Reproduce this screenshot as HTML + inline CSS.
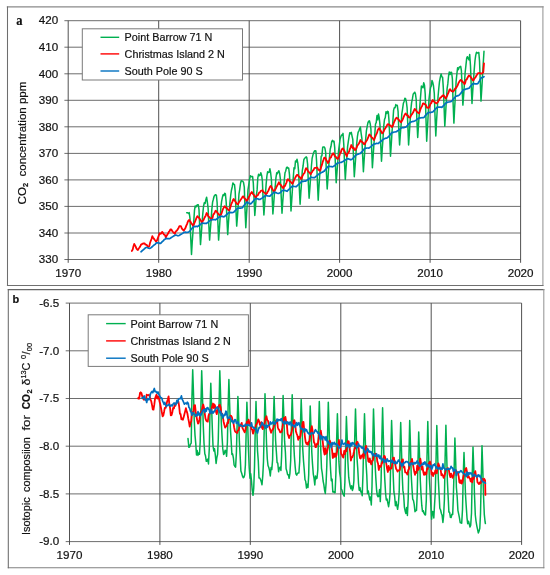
<!DOCTYPE html>
<html lang="en"><head><meta charset="utf-8"><title>CO2 concentration and isotopic composition</title>
<style>html,body{margin:0;padding:0;background:#fff}svg{display:block;font-size:11.5px}text{font-family:"Liberation Sans",sans-serif;fill:#111;stroke:#111;stroke-width:0.2px}</style></head><body>
<svg width="550" height="575" viewBox="0 0 550 575">
<rect x="0" y="0" width="550" height="575" fill="#fff"/>
<g fill="none" stroke-linecap="square">
<line x1="7.5" y1="6.9" x2="542.9" y2="6.9" stroke="#8a8a8a" stroke-width="1.40"/>
<line x1="542.9" y1="6.9" x2="542.9" y2="285.5" stroke="#9a9a9a" stroke-width="1.1"/>
<line x1="7.5" y1="285.5" x2="542.9" y2="285.5" stroke="#707070" stroke-width="1.1"/>
<line x1="7.5" y1="6.9" x2="7.5" y2="285.5" stroke="#6e6e6e" stroke-width="1.05"/>
</g>
<g fill="none" stroke-linecap="square">
<line x1="8.3" y1="289.6" x2="543.8" y2="289.6" stroke="#666666" stroke-width="1.10"/>
<line x1="543.8" y1="289.6" x2="543.8" y2="567.7" stroke="#9a9a9a" stroke-width="1.1"/>
<line x1="8.3" y1="567.7" x2="543.8" y2="567.7" stroke="#808080" stroke-width="1.1"/>
<line x1="8.3" y1="289.6" x2="8.3" y2="567.7" stroke="#6a6a6a" stroke-width="1.05"/>
</g>
<g stroke="#5c5c5c" stroke-width="0.9" fill="none"><line x1="64.4" y1="259.5" x2="520.6" y2="259.5"/><line x1="64.4" y1="233.0" x2="520.6" y2="233.0"/><line x1="64.4" y1="206.4" x2="520.6" y2="206.4"/><line x1="64.4" y1="179.9" x2="520.6" y2="179.9"/><line x1="64.4" y1="153.4" x2="520.6" y2="153.4"/><line x1="64.4" y1="126.8" x2="520.6" y2="126.8"/><line x1="64.4" y1="100.3" x2="520.6" y2="100.3"/><line x1="64.4" y1="73.8" x2="520.6" y2="73.8"/><line x1="64.4" y1="47.2" x2="520.6" y2="47.2"/><line x1="64.4" y1="20.7" x2="520.6" y2="20.7"/></g>
<g stroke="#484848" stroke-width="0.95" fill="none"><line x1="68.2" y1="20.7" x2="68.2" y2="262.8"/><line x1="158.7" y1="20.7" x2="158.7" y2="262.8"/><line x1="249.2" y1="20.7" x2="249.2" y2="262.8"/><line x1="339.6" y1="20.7" x2="339.6" y2="262.8"/><line x1="430.1" y1="20.7" x2="430.1" y2="262.8"/><line x1="520.6" y1="20.7" x2="520.6" y2="262.8"/></g>
<text transform="translate(58.2,263.2) scale(1.000,1)" text-anchor="end" style="font-size:11.6px">330</text><text transform="translate(58.2,236.7) scale(1.000,1)" text-anchor="end" style="font-size:11.6px">340</text><text transform="translate(58.2,210.1) scale(1.000,1)" text-anchor="end" style="font-size:11.6px">350</text><text transform="translate(58.2,183.6) scale(1.000,1)" text-anchor="end" style="font-size:11.6px">360</text><text transform="translate(58.2,157.1) scale(1.000,1)" text-anchor="end" style="font-size:11.6px">370</text><text transform="translate(58.2,130.5) scale(1.000,1)" text-anchor="end" style="font-size:11.6px">380</text><text transform="translate(58.2,104.0) scale(1.000,1)" text-anchor="end" style="font-size:11.6px">390</text><text transform="translate(58.2,77.5) scale(1.000,1)" text-anchor="end" style="font-size:11.6px">400</text><text transform="translate(58.2,50.9) scale(1.000,1)" text-anchor="end" style="font-size:11.6px">410</text><text transform="translate(58.2,24.4) scale(1.000,1)" text-anchor="end" style="font-size:11.6px">420</text><text transform="translate(68.2,276.7) scale(1.000,1)" text-anchor="middle" style="font-size:11.6px">1970</text><text transform="translate(158.7,276.7) scale(1.000,1)" text-anchor="middle" style="font-size:11.6px">1980</text><text transform="translate(249.2,276.7) scale(1.000,1)" text-anchor="middle" style="font-size:11.6px">1990</text><text transform="translate(339.6,276.7) scale(1.000,1)" text-anchor="middle" style="font-size:11.6px">2000</text><text transform="translate(430.1,276.7) scale(1.000,1)" text-anchor="middle" style="font-size:11.6px">2010</text><text transform="translate(520.6,276.7) scale(1.000,1)" text-anchor="middle" style="font-size:11.6px">2020</text>
<g fill="none" stroke-linejoin="round" stroke-linecap="round">
<polyline stroke="#00b050" stroke-width="1.5" points="186.7,212.8 187.7,212.7 188.5,213.5 189.2,212.6 190.0,218.5 190.7,237.5 191.5,254.5 192.2,242.7 193.0,231.5 193.7,222.4 194.5,210.1 195.2,206.0 196.0,207.0 196.8,205.4 197.5,204.8 198.3,204.8 199.0,209.6 199.8,229.1 200.5,244.6 201.3,234.1 202.0,223.9 202.8,213.6 203.5,206.5 204.3,202.7 205.1,203.5 205.8,200.0 206.6,197.2 207.3,201.6 208.1,208.1 208.8,224.5 209.6,240.1 210.3,230.0 211.1,220.1 211.8,209.9 212.6,202.1 213.3,199.5 214.1,196.2 214.9,195.2 215.6,194.7 216.4,195.3 217.1,202.4 217.9,223.0 218.6,240.1 219.4,228.9 220.1,218.2 220.9,207.4 221.6,201.3 222.4,197.3 223.1,194.7 223.9,195.4 224.7,193.2 225.4,193.9 226.2,202.2 226.9,218.5 227.7,234.6 228.4,223.4 229.2,212.7 229.9,203.1 230.7,195.3 231.4,190.5 232.2,187.0 232.9,182.9 233.7,184.2 234.5,184.7 235.2,191.4 236.0,210.7 236.7,226.1 237.5,215.9 238.2,205.9 239.0,193.8 239.7,189.6 240.5,183.5 241.2,180.8 242.0,181.1 242.8,181.3 243.5,182.4 244.3,187.1 245.0,208.9 245.8,227.7 246.5,214.9 247.3,202.9 248.0,189.6 248.8,184.6 249.5,179.7 250.3,175.8 251.0,176.8 251.8,176.4 252.6,176.6 253.3,182.9 254.1,200.5 254.8,215.5 255.6,205.5 256.3,195.9 257.1,189.9 257.8,177.9 258.6,174.2 259.3,175.7 260.1,175.3 260.8,172.8 261.6,175.2 262.4,181.0 263.1,198.9 263.9,214.9 264.6,204.7 265.4,194.9 266.1,184.6 266.9,176.0 267.6,171.8 268.4,172.6 269.1,172.4 269.9,168.8 270.6,172.5 271.4,179.5 272.2,197.9 272.9,214.0 273.7,203.7 274.4,193.8 275.2,186.7 275.9,178.1 276.7,172.8 277.4,173.7 278.2,171.8 278.9,170.8 279.7,173.6 280.5,180.2 281.2,196.6 282.0,213.3 282.7,202.4 283.5,191.9 284.2,181.0 285.0,172.7 285.7,171.2 286.5,167.6 287.2,167.1 288.0,168.3 288.7,168.0 289.5,174.8 290.3,193.5 291.0,210.9 291.8,199.3 292.5,188.1 293.3,177.1 294.0,167.8 294.8,168.6 295.5,160.9 296.3,161.9 297.0,159.2 297.8,163.1 298.5,170.4 299.3,187.6 300.1,204.3 300.8,192.9 301.6,181.9 302.3,170.7 303.1,166.0 303.8,159.9 304.6,158.2 305.3,157.8 306.1,156.9 306.8,157.6 307.6,164.1 308.3,181.7 309.1,198.2 309.9,187.6 310.6,177.4 311.4,166.3 312.1,158.5 312.9,155.1 313.6,152.8 314.4,151.2 315.1,150.7 315.9,151.0 316.6,161.7 317.4,181.5 318.2,200.3 318.9,187.5 319.7,175.4 320.4,168.5 321.2,156.1 321.9,155.9 322.7,147.3 323.4,147.0 324.2,147.0 324.9,148.2 325.7,152.7 326.4,172.9 327.2,188.9 328.0,177.8 328.7,167.2 329.5,156.7 330.2,149.3 331.0,146.3 331.7,141.7 332.5,140.4 333.2,141.7 334.0,141.2 334.7,147.4 335.5,166.7 336.2,182.8 337.0,172.0 337.8,161.5 338.5,151.3 339.3,145.1 340.0,139.6 340.8,136.7 341.5,135.1 342.3,135.2 343.0,133.4 343.8,144.8 344.5,162.6 345.3,179.4 346.0,168.4 346.8,158.0 347.6,146.6 348.3,141.7 349.1,136.5 349.8,132.7 350.6,133.7 351.3,132.3 352.1,136.3 352.8,139.4 353.6,160.0 354.3,176.7 355.1,165.6 355.9,154.8 356.6,144.8 357.4,136.7 358.1,132.4 358.9,130.8 359.6,128.9 360.4,127.0 361.1,133.1 361.9,138.7 362.6,155.0 363.4,171.8 364.1,160.4 364.9,149.4 365.7,138.9 366.4,130.9 367.2,126.3 367.9,122.8 368.7,121.2 369.4,120.8 370.2,123.7 370.9,128.8 371.7,149.8 372.4,167.7 373.2,155.7 373.9,144.2 374.7,135.8 375.5,124.0 376.2,122.7 377.0,115.5 377.7,119.8 378.5,114.1 379.2,117.5 380.0,125.1 380.7,144.1 381.5,161.2 382.2,149.7 383.0,138.6 383.7,126.4 384.5,119.6 385.3,117.5 386.0,111.7 386.8,113.5 387.5,111.2 388.3,111.9 389.0,120.4 389.8,138.7 390.5,156.3 391.3,144.0 392.0,132.3 392.8,122.1 393.6,110.1 394.3,107.8 395.1,107.7 395.8,104.6 396.6,105.6 397.3,105.3 398.1,111.7 398.8,129.5 399.6,144.9 400.3,134.7 401.1,124.7 401.8,113.9 402.6,108.8 403.4,103.2 404.1,101.4 404.9,98.3 405.6,98.6 406.4,102.2 407.1,107.8 407.9,127.1 408.6,144.9 409.4,132.9 410.1,121.3 410.9,109.1 411.6,102.6 412.4,98.9 413.2,94.0 413.9,93.4 414.7,92.2 415.4,93.5 416.2,99.5 416.9,120.0 417.7,137.4 418.4,126.1 419.2,114.9 419.9,105.1 420.7,95.0 421.4,86.1 422.2,86.7 423.0,87.8 423.7,82.8 424.5,85.3 425.2,93.8 426.0,119.6 426.7,141.2 427.5,127.2 428.2,114.1 429.0,99.2 429.7,93.2 430.5,87.8 431.3,86.0 432.0,80.4 432.8,82.6 433.5,86.0 434.3,93.4 435.0,115.6 435.8,135.9 436.5,122.0 437.3,108.8 438.0,97.2 438.8,88.3 439.5,81.7 440.3,77.3 441.1,73.9 441.8,76.8 442.6,77.2 443.3,87.6 444.1,107.4 444.8,126.3 445.6,113.6 446.3,101.3 447.1,88.6 447.8,83.9 448.6,75.7 449.3,71.9 450.1,74.6 450.9,72.2 451.6,72.5 452.4,79.0 453.1,102.9 453.9,123.1 454.6,108.8 455.4,95.5 456.1,81.6 456.9,73.7 457.6,67.8 458.4,69.6 459.1,67.4 459.9,66.7 460.7,66.3 461.4,70.7 462.2,89.8 462.9,105.1 463.7,94.4 464.4,84.0 465.2,71.8 465.9,65.7 466.7,58.1 467.4,56.7 468.2,58.5 469.0,60.0 469.7,54.5 470.5,66.0 471.2,85.3 472.0,103.5 472.7,91.6 473.5,80.1 474.2,70.1 475.0,60.5 475.7,55.4 476.5,52.3 477.2,52.9 478.0,53.0 478.8,52.5 479.5,60.6 480.3,82.1 481.0,101.1 481.8,88.4 482.5,76.3 483.3,62.6 484.0,51.2"/>
<polyline stroke="#ff0000" stroke-width="1.8" points="131.8,251.0 132.7,249.6 133.4,246.4 134.2,243.9 134.9,245.1 135.7,246.6 136.4,248.4 137.2,249.6 137.9,250.1 138.7,248.5 139.5,247.5 140.2,246.5 141.0,244.7 141.7,244.4 142.5,243.7 143.2,243.5 144.0,243.4 144.7,243.5 145.5,244.7 146.2,244.6 147.0,245.2 147.7,246.8 148.5,246.9 149.3,246.1 150.0,243.0 150.8,240.8 151.5,239.0 152.3,236.2 153.0,237.5 153.8,238.6 154.5,239.6 155.3,240.5 156.0,241.6 156.8,240.9 157.5,239.2 158.3,236.7 159.1,234.6 159.8,233.2 160.6,233.8 161.3,233.4 162.1,231.9 162.8,232.7 163.6,234.2 164.3,234.6 165.1,235.2 165.8,237.6 166.6,235.6 167.4,234.6 168.1,233.6 168.9,231.7 169.6,231.2 170.4,229.3 171.1,229.3 171.9,230.4 172.6,231.5 173.4,232.5 174.1,233.0 174.9,233.9 175.6,231.5 176.4,231.0 177.2,230.2 177.9,229.0 178.7,227.7 179.4,226.2 180.2,226.1 180.9,226.1 181.7,228.2 182.4,229.3 183.2,230.0 183.9,230.7 184.7,229.2 185.4,228.1 186.2,225.9 187.0,224.1 187.7,222.1 188.5,220.4 189.2,219.9 190.0,221.3 190.7,222.0 191.5,223.9 192.2,224.1 193.0,225.9 193.7,224.9 194.5,222.8 195.2,221.1 196.0,219.2 196.8,217.0 197.5,216.2 198.3,217.3 199.0,217.7 199.8,219.1 200.5,220.2 201.3,221.3 202.0,222.8 202.8,221.1 203.5,220.1 204.3,218.1 205.1,216.8 205.8,215.3 206.6,213.0 207.3,213.9 208.1,216.0 208.8,216.8 209.6,217.4 210.3,218.3 211.1,220.1 211.8,218.7 212.6,217.6 213.3,214.5 214.1,213.8 214.9,212.1 215.6,210.7 216.4,211.3 217.1,212.3 217.9,213.6 218.6,214.1 219.4,215.2 220.1,215.6 220.9,214.9 221.6,213.1 222.4,210.8 223.1,208.7 223.9,207.4 224.7,206.3 225.4,207.0 226.2,208.0 226.9,208.0 227.7,209.3 228.4,210.0 229.2,210.5 229.9,208.8 230.7,206.1 231.4,203.8 232.2,202.1 232.9,200.3 233.7,199.0 234.5,200.5 235.2,201.1 236.0,202.6 236.7,203.7 237.5,204.1 238.2,204.0 239.0,202.0 239.7,201.4 240.5,199.9 241.2,199.0 242.0,197.8 242.8,196.4 243.5,196.4 244.3,198.2 245.0,198.5 245.8,199.5 246.5,201.3 247.3,200.0 248.0,199.0 248.8,197.1 249.5,196.1 250.3,194.0 251.0,193.2 251.8,192.0 252.6,193.5 253.3,194.4 254.1,195.2 254.8,196.4 255.6,197.6 256.3,196.5 257.1,195.5 257.8,195.4 258.6,193.6 259.3,192.6 260.1,192.2 260.8,190.8 261.6,190.6 262.4,190.2 263.1,191.7 263.9,192.4 264.6,192.6 265.4,193.9 266.1,194.0 266.9,193.3 267.6,191.8 268.4,190.7 269.1,188.9 269.9,187.0 270.6,186.0 271.4,186.8 272.2,188.8 272.9,190.0 273.7,191.1 274.4,191.2 275.2,189.7 275.9,188.3 276.7,186.5 277.4,185.3 278.2,183.7 278.9,182.3 279.7,184.1 280.5,184.8 281.2,185.3 282.0,186.9 282.7,187.7 283.5,188.3 284.2,185.8 285.0,186.0 285.7,184.1 286.5,182.6 287.2,180.1 288.0,179.1 288.7,179.9 289.5,181.1 290.3,181.3 291.0,182.2 291.8,183.3 292.5,183.8 293.3,182.2 294.0,180.1 294.8,178.6 295.5,177.2 296.3,175.8 297.0,174.9 297.8,174.9 298.5,176.2 299.3,176.8 300.1,177.5 300.8,178.9 301.6,178.7 302.3,176.2 303.1,174.8 303.8,173.6 304.6,172.9 305.3,170.1 306.1,168.1 306.8,168.7 307.6,170.4 308.3,171.4 309.1,172.4 309.9,172.9 310.6,174.4 311.4,172.8 312.1,172.0 312.9,170.4 313.6,170.0 314.4,168.1 315.1,167.9 315.9,167.8 316.6,167.5 317.4,167.7 318.2,169.8 318.9,169.6 319.7,170.8 320.4,170.2 321.2,166.9 321.9,164.9 322.7,161.9 323.4,160.1 324.2,157.7 324.9,157.7 325.7,158.5 326.4,160.4 327.2,161.5 328.0,163.0 328.7,161.8 329.5,159.8 330.2,157.6 331.0,157.4 331.7,155.3 332.5,154.4 333.2,153.3 334.0,154.1 334.7,156.0 335.5,156.7 336.2,157.1 337.0,158.7 337.8,158.9 338.5,157.4 339.3,156.0 340.0,153.4 340.8,152.4 341.5,150.1 342.3,148.6 343.0,148.5 343.8,150.1 344.5,151.2 345.3,153.1 346.0,154.7 346.8,156.3 347.6,153.6 348.3,152.7 349.1,151.6 349.8,149.3 350.6,147.3 351.3,145.0 352.1,146.7 352.8,148.0 353.6,147.6 354.3,149.3 355.1,150.2 355.9,149.1 356.6,147.8 357.4,145.4 358.1,144.8 358.9,143.5 359.6,142.2 360.4,140.0 361.1,141.4 361.9,141.6 362.6,142.5 363.4,143.2 364.1,144.4 364.9,143.9 365.7,141.9 366.4,141.0 367.2,139.7 367.9,138.2 368.7,136.0 369.4,134.5 370.2,135.2 370.9,136.1 371.7,137.7 372.4,137.7 373.2,138.9 373.9,140.0 374.7,138.3 375.5,136.1 376.2,134.5 377.0,132.9 377.7,130.2 378.5,128.9 379.2,128.1 380.0,129.8 380.7,130.5 381.5,132.3 382.2,133.4 383.0,132.6 383.7,131.4 384.5,129.5 385.3,128.3 386.0,127.1 386.8,125.7 387.5,124.3 388.3,124.1 389.0,124.8 389.8,125.5 390.5,125.5 391.3,126.3 392.0,127.0 392.8,125.9 393.6,123.4 394.3,121.7 395.1,120.0 395.8,118.5 396.6,117.6 397.3,118.2 398.1,118.9 398.8,119.9 399.6,120.8 400.3,121.8 401.1,122.4 401.8,121.0 402.6,119.8 403.4,117.6 404.1,116.0 404.9,114.4 405.6,113.5 406.4,114.3 407.1,115.4 407.9,115.4 408.6,117.3 409.4,117.4 410.1,117.6 410.9,115.7 411.6,114.6 412.4,113.6 413.2,112.3 413.9,110.6 414.7,108.9 415.4,109.6 416.2,110.6 416.9,111.8 417.7,112.5 418.4,113.0 419.2,113.3 419.9,111.0 420.7,108.5 421.4,107.1 422.2,105.7 423.0,103.4 423.7,103.4 424.5,104.1 425.2,104.4 426.0,105.2 426.7,107.5 427.5,107.5 428.2,107.9 429.0,107.7 429.7,105.8 430.5,103.8 431.3,103.1 432.0,101.2 432.8,99.9 433.5,101.4 434.3,101.4 435.0,102.6 435.8,103.1 436.5,103.3 437.3,102.7 438.0,101.9 438.8,100.3 439.5,99.2 440.3,97.7 441.1,97.4 441.8,96.1 442.6,96.2 443.3,95.1 444.1,95.9 444.8,97.3 445.6,98.6 446.3,97.3 447.1,95.8 447.8,94.0 448.6,92.4 449.3,90.1 450.1,89.1 450.9,90.5 451.6,91.2 452.4,91.4 453.1,91.7 453.9,90.7 454.6,89.5 455.4,88.2 456.1,88.1 456.9,86.5 457.6,85.5 458.4,83.2 459.1,82.1 459.9,80.7 460.7,80.0 461.4,80.3 462.2,81.4 462.9,82.4 463.7,82.5 464.4,84.2 465.2,83.0 465.9,79.9 466.7,79.5 467.4,78.0 468.2,76.5 469.0,75.4 469.7,75.9 470.5,76.8 471.2,77.7 472.0,78.9 472.7,80.3 473.5,80.5 474.2,78.9 475.0,77.8 475.7,77.0 476.5,75.3 477.2,74.5 478.0,73.1 478.8,73.1 479.5,73.1 480.3,73.2 481.0,73.6 481.8,73.6 482.5,72.9 483.3,72.2 484.0,63.4"/>
<polyline stroke="#0070c0" stroke-width="1.7" points="141.0,251.8 141.7,251.2 142.5,250.5 143.2,249.8 144.0,249.2 144.7,248.5 145.5,247.8 146.2,247.5 147.0,247.5 147.7,247.8 148.5,248.1 149.3,248.3 150.0,248.4 150.8,247.9 151.5,247.3 152.3,246.8 153.0,245.9 153.8,245.3 154.5,244.7 155.3,244.3 156.0,243.3 156.8,242.8 157.5,242.9 158.3,242.8 159.1,243.1 159.8,243.4 160.6,243.3 161.3,242.8 162.1,241.7 162.8,241.2 163.6,240.5 164.3,239.6 165.1,239.2 165.8,238.3 166.6,238.6 167.4,238.6 168.1,238.7 168.9,238.5 169.6,238.6 170.4,238.3 171.1,237.6 171.9,237.2 172.6,236.6 173.4,236.3 174.1,235.8 174.9,235.3 175.6,235.2 176.4,235.2 177.2,235.5 177.9,235.8 178.7,235.6 179.4,235.3 180.2,234.8 180.9,234.3 181.7,233.9 182.4,233.4 183.2,233.0 183.9,232.3 184.7,232.3 185.4,232.2 186.2,232.3 187.0,232.5 187.7,232.3 188.5,232.1 189.2,231.6 190.0,230.8 190.7,229.9 191.5,229.0 192.2,228.1 193.0,227.3 193.7,226.4 194.5,226.6 195.2,226.6 196.0,226.4 196.8,226.4 197.5,226.6 198.3,226.0 199.0,225.4 199.8,225.0 200.5,224.5 201.3,223.7 202.0,223.1 202.8,223.1 203.5,223.3 204.3,223.3 205.1,223.4 205.8,223.4 206.6,223.3 207.3,222.7 208.1,222.2 208.8,221.6 209.6,220.9 210.3,220.4 211.1,219.8 211.8,219.8 212.6,219.7 213.3,219.5 214.1,219.6 214.9,219.7 215.6,219.8 216.4,219.3 217.1,218.6 217.9,218.0 218.6,217.6 219.4,216.8 220.1,216.4 220.9,216.2 221.6,216.4 222.4,216.4 223.1,216.7 223.9,216.8 224.7,216.4 225.4,215.6 226.2,215.0 226.9,214.4 227.7,213.6 228.4,212.9 229.2,212.6 229.9,212.6 230.7,212.4 231.4,212.6 232.2,212.6 232.9,212.5 233.7,212.2 234.5,211.5 235.2,210.6 236.0,209.9 236.7,209.1 237.5,208.3 238.2,208.0 239.0,208.1 239.7,208.1 240.5,208.1 241.2,208.0 242.0,208.0 242.8,207.2 243.5,206.0 244.3,205.2 245.0,204.4 245.8,203.2 246.5,202.4 247.3,202.1 248.0,202.7 248.8,203.1 249.5,203.6 250.3,203.9 251.0,203.6 251.8,202.8 252.6,201.9 253.3,201.1 254.1,200.1 254.8,199.4 255.6,198.5 256.3,198.6 257.1,198.7 257.8,198.8 258.6,199.4 259.3,199.3 260.1,199.4 260.8,198.8 261.6,198.5 262.4,197.8 263.1,197.1 263.9,196.9 264.6,196.1 265.4,195.5 266.1,195.7 266.9,195.7 267.6,195.9 268.4,196.0 269.1,196.1 269.9,196.1 270.6,195.5 271.4,194.6 272.2,194.1 272.9,193.3 273.7,192.5 274.4,192.1 275.2,192.6 275.9,192.6 276.7,193.0 277.4,193.2 278.2,193.5 278.9,193.4 279.7,192.9 280.5,192.5 281.2,191.8 282.0,190.9 282.7,190.4 283.5,189.9 284.2,190.3 285.0,190.6 285.7,190.6 286.5,191.1 287.2,191.3 288.0,190.1 288.7,189.8 289.5,188.8 290.3,188.0 291.0,187.3 291.8,186.7 292.5,185.9 293.3,186.4 294.0,186.5 294.8,186.5 295.5,186.6 296.3,186.7 297.0,185.9 297.8,185.3 298.5,184.5 299.3,183.9 300.1,183.1 300.8,182.2 301.6,181.6 302.3,181.4 303.1,181.4 303.8,181.3 304.6,181.1 305.3,181.1 306.1,180.9 306.8,180.4 307.6,179.7 308.3,179.3 309.1,178.7 309.9,178.2 310.6,177.5 311.4,177.2 312.1,177.5 312.9,177.6 313.6,177.6 314.4,177.7 315.1,177.2 315.9,176.4 316.6,175.9 317.4,175.3 318.2,174.6 318.9,174.0 319.7,173.6 320.4,173.1 321.2,172.7 321.9,172.3 322.7,172.1 323.4,171.4 324.2,171.2 324.9,170.2 325.7,169.5 326.4,168.3 327.2,167.6 328.0,166.6 328.7,166.3 329.5,166.3 330.2,166.5 331.0,166.6 331.7,166.7 332.5,166.8 333.2,166.5 334.0,166.0 334.7,165.5 335.5,164.8 336.2,164.1 337.0,163.4 337.8,162.9 338.5,163.0 339.3,162.7 340.0,162.4 340.8,162.5 341.5,162.4 342.3,161.8 343.0,161.5 343.8,160.9 344.5,160.5 345.3,159.9 346.0,159.5 346.8,159.2 347.6,158.6 348.3,158.8 349.1,159.2 349.8,159.3 350.6,159.8 351.3,159.6 352.1,159.1 352.8,158.5 353.6,157.7 354.3,156.8 355.1,155.9 355.9,155.2 356.6,154.6 357.4,154.5 358.1,154.3 358.9,153.8 359.6,153.6 360.4,153.4 361.1,152.5 361.9,151.9 362.6,151.0 363.4,150.0 364.1,149.1 364.9,148.4 365.7,148.1 366.4,148.2 367.2,148.0 367.9,148.0 368.7,148.1 369.4,147.8 370.2,147.1 370.9,146.6 371.7,145.9 372.4,145.1 373.2,144.7 373.9,144.0 374.7,143.8 375.5,143.8 376.2,143.4 377.0,143.4 377.7,143.5 378.5,143.4 379.2,142.4 380.0,142.2 380.7,141.5 381.5,140.8 382.2,140.1 383.0,139.6 383.7,139.1 384.5,138.7 385.3,138.3 386.0,138.2 386.8,138.1 387.5,137.6 388.3,136.8 389.0,136.1 389.8,135.2 390.5,134.2 391.3,133.5 392.0,132.6 392.8,132.3 393.6,132.3 394.3,132.0 395.1,132.0 395.8,131.8 396.6,131.6 397.3,130.9 398.1,130.5 398.8,130.0 399.6,129.3 400.3,128.7 401.1,128.0 401.8,127.8 402.6,127.6 403.4,127.5 404.1,127.6 404.9,127.2 405.6,127.2 406.4,126.6 407.1,126.0 407.9,124.9 408.6,124.0 409.4,123.4 410.1,122.3 410.9,122.0 411.6,121.9 412.4,121.5 413.2,121.3 413.9,121.3 414.7,121.0 415.4,120.6 416.2,120.1 416.9,119.4 417.7,118.9 418.4,118.5 419.2,118.1 419.9,117.7 420.7,118.0 421.4,117.8 422.2,117.6 423.0,117.8 423.7,117.5 424.5,116.8 425.2,115.7 426.0,115.0 426.7,114.1 427.5,113.3 428.2,112.6 429.0,112.5 429.7,112.4 430.5,112.6 431.3,112.3 432.0,112.1 432.8,112.0 433.5,111.2 434.3,110.4 435.0,109.5 435.8,108.6 436.5,108.0 437.3,107.0 438.0,107.2 438.8,107.0 439.5,107.2 440.3,107.2 441.1,107.2 441.8,107.3 442.6,106.7 443.3,105.8 444.1,105.2 444.8,104.1 445.6,103.3 446.3,102.7 447.1,102.2 447.8,102.3 448.6,102.0 449.3,102.0 450.1,101.8 450.9,101.6 451.6,101.1 452.4,100.3 453.1,99.3 453.9,98.4 454.6,97.6 455.4,96.8 456.1,96.0 456.9,96.1 457.6,95.7 458.4,95.6 459.1,95.1 459.9,94.3 460.7,93.4 461.4,92.4 462.2,91.6 462.9,90.5 463.7,89.7 464.4,89.5 465.2,89.4 465.9,89.0 466.7,88.9 467.4,88.6 468.2,88.5 469.0,88.2 469.7,87.2 470.5,86.3 471.2,85.5 472.0,84.7 472.7,83.9 473.5,83.8 474.2,83.6 475.0,83.9 475.7,83.8 476.5,83.9 477.2,83.8 478.0,83.4 478.8,81.9 479.5,80.9 480.3,79.2 481.0,78.1 481.8,77.7 482.5,77.4 483.3,77.1 484.0,76.7"/>
</g>
<g stroke="#5c5c5c" stroke-width="0.9" fill="none"><line x1="65.7" y1="541.6" x2="521.6" y2="541.6"/><line x1="65.7" y1="493.9" x2="521.6" y2="493.9"/><line x1="65.7" y1="446.2" x2="521.6" y2="446.2"/><line x1="65.7" y1="398.5" x2="521.6" y2="398.5"/><line x1="65.7" y1="350.8" x2="521.6" y2="350.8"/><line x1="65.7" y1="303.1" x2="521.6" y2="303.1"/></g>
<g stroke="#484848" stroke-width="0.95" fill="none"><line x1="69.5" y1="303.1" x2="69.5" y2="544.9"/><line x1="159.9" y1="303.1" x2="159.9" y2="544.9"/><line x1="250.3" y1="303.1" x2="250.3" y2="544.9"/><line x1="340.8" y1="303.1" x2="340.8" y2="544.9"/><line x1="431.2" y1="303.1" x2="431.2" y2="544.9"/><line x1="521.6" y1="303.1" x2="521.6" y2="544.9"/></g>
<text transform="translate(59.2,545.3) scale(1.000,1)" text-anchor="end" style="font-size:11.6px">-9.0</text><text transform="translate(59.2,497.6) scale(1.000,1)" text-anchor="end" style="font-size:11.6px">-8.5</text><text transform="translate(59.2,449.9) scale(1.000,1)" text-anchor="end" style="font-size:11.6px">-8.0</text><text transform="translate(59.2,402.2) scale(1.000,1)" text-anchor="end" style="font-size:11.6px">-7.5</text><text transform="translate(59.2,354.5) scale(1.000,1)" text-anchor="end" style="font-size:11.6px">-7.0</text><text transform="translate(59.2,306.8) scale(1.000,1)" text-anchor="end" style="font-size:11.6px">-6.5</text><text transform="translate(69.5,559.2) scale(1.000,1)" text-anchor="middle" style="font-size:11.6px">1970</text><text transform="translate(159.9,559.2) scale(1.000,1)" text-anchor="middle" style="font-size:11.6px">1980</text><text transform="translate(250.3,559.2) scale(1.000,1)" text-anchor="middle" style="font-size:11.6px">1990</text><text transform="translate(340.8,559.2) scale(1.000,1)" text-anchor="middle" style="font-size:11.6px">2000</text><text transform="translate(431.2,559.2) scale(1.000,1)" text-anchor="middle" style="font-size:11.6px">2010</text><text transform="translate(521.6,559.2) scale(1.000,1)" text-anchor="middle" style="font-size:11.6px">2020</text>
<g fill="none" stroke-linejoin="round" stroke-linecap="round">
<polyline stroke="#00b050" stroke-width="1.5" points="188.0,438.6 188.9,447.3 189.7,446.8 190.4,444.4 191.2,443.2 191.9,399.3 192.7,369.7 193.5,393.2 194.2,419.5 195.0,435.1 195.7,442.9 196.5,455.0 197.2,450.6 198.0,455.4 198.7,452.9 199.5,454.3 200.2,441.6 201.0,402.5 201.7,370.8 202.5,396.4 203.2,424.0 204.0,443.0 204.8,453.7 205.5,455.8 206.3,461.3 207.0,461.0 207.8,459.1 208.5,463.9 209.3,448.3 210.0,410.3 210.8,383.2 211.5,404.0 212.3,427.7 213.0,445.6 213.8,451.0 214.5,448.6 215.3,454.8 216.1,463.4 216.8,457.9 217.6,454.3 218.3,439.1 219.1,403.1 219.8,370.8 220.6,395.7 221.3,422.5 222.1,437.2 222.8,448.9 223.6,454.4 224.3,453.7 225.1,450.3 225.9,451.1 226.6,456.3 227.4,442.0 228.1,407.0 228.9,379.4 229.6,402.9 230.4,428.4 231.1,439.6 231.9,454.5 232.6,453.9 233.4,458.0 234.1,465.0 234.9,466.5 235.6,467.1 236.4,452.8 237.2,422.0 237.9,396.6 238.7,418.0 239.4,441.9 240.2,456.7 240.9,471.1 241.7,473.2 242.4,475.9 243.2,477.8 243.9,477.4 244.7,474.7 245.4,465.0 246.2,430.5 246.9,402.3 247.7,424.9 248.5,450.5 249.2,467.5 250.0,478.2 250.7,473.7 251.5,480.9 252.2,489.8 253.0,495.3 253.7,488.7 254.5,466.9 255.2,432.6 256.0,401.4 256.7,424.7 257.5,450.6 258.3,461.0 259.0,477.9 259.8,478.0 260.5,479.5 261.3,481.8 262.0,484.7 262.8,475.4 263.5,461.7 264.3,424.7 265.0,393.7 265.8,417.3 266.5,442.8 267.3,459.0 268.0,465.5 268.8,467.5 269.6,470.8 270.3,475.9 271.1,467.4 271.8,469.6 272.6,459.8 273.3,423.4 274.1,396.6 274.8,417.4 275.6,440.5 276.3,450.9 277.1,462.7 277.8,463.2 278.6,471.8 279.3,468.1 280.1,467.1 280.9,470.4 281.6,456.2 282.4,423.0 283.1,395.6 283.9,417.2 284.6,441.4 285.4,452.2 286.1,468.7 286.9,471.4 287.6,474.7 288.4,474.7 289.1,478.3 289.9,473.6 290.7,460.3 291.4,424.3 292.2,394.7 292.9,417.9 293.7,443.3 294.4,456.5 295.2,467.0 295.9,473.9 296.7,475.2 297.4,473.5 298.2,472.9 298.9,473.0 299.7,461.6 300.4,427.6 301.2,399.5 302.0,422.5 302.7,448.3 303.5,460.7 304.2,469.0 305.0,479.8 305.7,481.3 306.5,488.1 307.2,484.3 308.0,487.4 308.7,475.0 309.5,434.8 310.2,406.1 311.0,428.2 311.8,452.5 312.5,463.8 313.3,474.2 314.0,478.1 314.8,485.0 315.5,475.9 316.3,478.8 317.0,478.2 317.8,470.0 318.5,431.1 319.3,401.4 320.0,424.7 320.8,450.7 321.5,468.3 322.3,473.5 323.1,481.0 323.8,484.3 324.6,490.4 325.3,493.4 326.1,483.1 326.8,465.6 327.6,433.5 328.3,402.3 329.1,427.4 329.8,454.8 330.6,470.0 331.3,480.7 332.1,479.2 332.8,492.0 333.6,491.5 334.4,492.7 335.1,492.6 335.9,473.5 336.6,441.7 337.4,413.8 338.1,436.3 338.9,461.4 339.6,472.2 340.4,477.6 341.1,488.9 341.9,489.9 342.6,493.0 343.4,494.6 344.2,496.2 344.9,482.0 345.7,444.8 346.4,416.6 347.2,437.9 347.9,461.7 348.7,477.2 349.4,482.0 350.2,486.3 350.9,488.8 351.7,485.8 352.4,490.4 353.2,488.0 353.9,480.7 354.7,438.9 355.5,409.0 356.2,432.4 357.0,458.1 357.7,467.7 358.5,483.2 359.2,490.3 360.0,487.6 360.7,492.0 361.5,491.4 362.2,495.7 363.0,473.7 363.7,442.6 364.5,413.8 365.2,436.4 366.0,462.1 366.8,475.5 367.5,493.6 368.3,490.9 369.0,495.6 369.8,499.9 370.5,496.9 371.3,504.9 372.0,486.5 372.8,442.0 373.5,409.0 374.3,434.4 375.0,462.5 375.8,477.6 376.6,490.2 377.3,495.3 378.1,496.8 378.8,496.2 379.6,489.4 380.3,501.6 381.1,480.4 381.8,441.3 382.6,407.8 383.3,434.8 384.1,464.4 384.8,479.6 385.6,493.5 386.3,500.0 387.1,499.1 387.9,503.4 388.6,506.7 389.4,501.1 390.1,492.4 390.9,450.8 391.6,420.4 392.4,445.0 393.1,472.4 393.9,492.0 394.6,495.8 395.4,505.7 396.1,501.6 396.9,505.9 397.6,509.3 398.4,503.9 399.2,491.9 399.9,454.3 400.7,422.4 401.4,447.1 402.2,474.6 402.9,490.4 403.7,495.6 404.4,507.2 405.2,511.2 405.9,513.4 406.7,507.4 407.4,515.4 408.2,498.6 409.0,453.1 409.7,420.4 410.5,446.5 411.2,474.7 412.0,488.6 412.7,499.2 413.5,500.7 414.2,504.3 415.0,511.7 415.7,510.5 416.5,510.5 417.2,494.2 418.0,460.7 418.7,431.9 419.5,454.5 420.3,480.6 421.0,494.1 421.8,505.7 422.5,511.4 423.3,510.8 424.0,513.2 424.8,514.6 425.5,515.0 426.3,500.4 427.0,457.1 427.8,421.4 428.5,448.6 429.3,478.3 430.0,489.7 430.8,504.7 431.6,519.2 432.3,511.4 433.1,511.7 433.8,518.0 434.6,503.7 435.3,492.0 436.1,457.5 436.8,425.5 437.6,450.8 438.3,479.1 439.1,494.4 439.8,508.2 440.6,510.0 441.4,513.5 442.1,515.2 442.9,522.5 443.6,515.9 444.4,499.8 445.1,459.0 445.9,425.2 446.6,452.2 447.4,481.3 448.1,495.6 448.9,512.1 449.6,512.2 450.4,517.4 451.1,517.6 451.9,514.3 452.7,514.4 453.4,495.1 454.2,466.6 454.9,438.1 455.7,461.8 456.4,487.5 457.2,497.2 457.9,510.3 458.7,514.1 459.4,517.7 460.2,522.7 460.9,522.4 461.7,523.2 462.5,509.6 463.2,477.2 464.0,452.5 464.7,472.2 465.5,494.5 466.2,505.8 467.0,517.8 467.7,523.7 468.5,521.3 469.2,523.9 470.0,527.0 470.7,525.2 471.5,513.1 472.2,476.2 473.0,446.9 473.8,469.6 474.5,495.0 475.3,515.0 476.0,521.0 476.8,525.8 477.5,529.1 478.3,532.9 479.0,531.4 479.8,528.3 480.5,513.8 481.3,476.2 482.0,445.7 482.8,469.3 483.5,495.2 484.3,514.3 485.1,522.0 485.4,523.5"/>
<polyline stroke="#ff0000" stroke-width="1.8" points="138.1,398.5 138.4,397.8 139.2,398.6 140.0,393.0 140.7,392.3 141.5,393.1 142.2,396.2 143.0,396.2 143.7,399.7 144.5,398.8 145.2,399.6 146.0,399.8 146.7,394.6 147.5,395.2 148.2,395.2 149.0,394.8 149.7,396.7 150.5,399.2 151.3,401.5 152.0,404.9 152.8,409.5 153.5,409.7 154.3,404.7 155.0,398.8 155.8,396.4 156.5,394.7 157.3,398.6 158.0,396.3 158.8,397.6 159.5,401.4 160.3,404.3 161.1,408.5 161.8,412.1 162.6,416.3 163.3,415.5 164.1,411.7 164.8,407.9 165.6,407.9 166.3,405.6 167.1,401.6 167.8,399.4 168.6,396.3 169.3,404.0 170.1,408.2 170.8,415.4 171.6,414.9 172.4,411.9 173.1,407.8 173.9,408.5 174.6,404.8 175.4,405.8 176.1,403.3 176.9,402.6 177.6,401.9 178.4,401.6 179.1,406.0 179.9,413.7 180.6,414.1 181.4,419.3 182.1,418.4 182.9,419.7 183.7,416.9 184.4,414.3 185.2,411.1 185.9,408.1 186.7,411.4 187.4,413.5 188.2,418.2 188.9,421.6 189.7,426.7 190.4,422.8 191.2,421.3 191.9,412.1 192.7,414.5 193.5,410.7 194.2,405.4 195.0,405.2 195.7,411.7 196.5,416.8 197.2,420.3 198.0,423.6 198.7,422.9 199.5,419.2 200.2,414.7 201.0,411.7 201.7,411.1 202.5,406.6 203.2,404.5 204.0,407.8 204.8,413.9 205.5,418.7 206.3,420.7 207.0,421.5 207.8,421.7 208.5,415.8 209.3,413.6 210.0,413.7 210.8,412.9 211.5,409.0 212.3,406.1 213.0,403.5 213.8,408.2 214.5,404.5 215.3,406.3 216.1,412.2 216.8,414.1 217.6,410.4 218.3,408.1 219.1,405.3 219.8,404.7 220.6,407.3 221.3,413.2 222.1,413.5 222.8,416.6 223.6,421.7 224.3,424.5 225.1,427.6 225.9,426.5 226.6,426.1 227.4,422.5 228.1,423.1 228.9,417.7 229.6,419.1 230.4,415.6 231.1,415.8 231.9,417.1 232.6,420.7 233.4,422.6 234.1,427.2 234.9,431.1 235.6,432.1 236.4,432.6 237.2,432.9 237.9,430.5 238.7,430.4 239.4,426.7 240.2,426.1 240.9,424.6 241.7,422.9 242.4,427.9 243.2,429.4 243.9,430.8 244.7,432.3 245.4,429.9 246.2,424.9 246.9,421.7 247.7,423.9 248.5,419.6 249.2,422.0 250.0,424.6 250.7,424.5 251.5,429.1 252.2,429.5 253.0,433.6 253.7,431.5 254.5,427.9 255.2,427.8 256.0,424.9 256.7,424.1 257.5,421.7 258.3,419.3 259.0,420.8 259.8,424.4 260.5,425.8 261.3,422.1 262.0,427.7 262.8,429.1 263.5,425.0 264.3,424.5 265.0,421.6 265.8,417.7 266.5,416.3 267.3,420.4 268.0,420.8 268.8,425.2 269.6,427.8 270.3,429.9 271.1,432.8 271.8,430.8 272.6,429.3 273.3,428.8 274.1,425.6 274.8,424.7 275.6,422.9 276.1,420.7 277.1,420.3 277.8,427.2 278.6,429.4 279.3,430.0 280.1,432.3 280.9,432.4 281.6,431.7 282.4,428.0 283.1,423.5 283.9,417.9 284.6,420.5 285.4,417.0 286.1,421.3 286.9,424.7 287.6,433.6 288.4,435.7 289.1,438.1 289.9,435.6 290.7,435.1 291.4,433.1 292.2,429.4 292.9,426.3 293.7,420.6 294.4,420.3 295.2,423.9 295.9,431.4 296.7,433.8 297.4,435.5 298.2,439.9 298.9,436.9 299.7,438.0 300.4,436.1 301.2,430.9 302.0,427.7 302.7,422.1 303.5,422.0 304.2,429.9 305.0,437.3 305.7,442.1 306.5,444.0 307.2,442.9 308.0,444.7 308.7,441.5 309.5,441.3 310.2,435.2 311.0,430.0 311.8,426.1 312.5,430.0 313.3,436.2 314.0,442.3 314.8,443.7 315.5,447.2 316.3,446.9 317.0,443.6 317.8,444.1 318.5,439.4 319.3,434.0 320.0,434.3 320.8,430.7 321.5,435.5 322.3,437.0 323.1,445.0 323.8,450.8 324.6,454.5 325.3,448.1 326.1,453.8 326.8,452.6 327.6,449.1 328.3,446.0 329.1,442.4 329.8,440.6 330.6,443.1 331.3,444.0 332.1,450.6 332.8,458.0 333.6,453.7 334.4,456.9 335.1,453.3 335.9,456.7 336.6,454.4 337.4,449.9 338.1,445.9 338.9,439.8 339.6,445.3 340.4,445.9 341.1,453.6 341.9,454.7 342.6,456.7 343.4,457.5 344.2,450.9 344.9,454.0 345.7,449.9 346.4,451.1 347.2,444.5 347.9,441.2 348.7,441.4 349.4,446.2 350.2,452.3 350.9,460.6 351.7,457.2 352.4,457.2 353.2,455.0 353.9,452.0 354.7,447.9 355.5,448.2 356.2,443.5 357.0,441.7 357.7,442.2 358.5,446.6 359.2,453.7 360.0,458.1 360.7,458.6 361.5,455.5 362.2,456.6 363.0,454.2 363.7,458.3 364.5,452.5 365.2,448.6 366.0,445.9 366.8,450.2 367.5,455.2 368.3,461.1 369.0,462.0 369.8,458.4 370.5,462.4 371.3,464.4 372.0,460.8 372.8,460.7 373.5,457.1 374.3,454.9 375.0,454.2 375.8,453.6 376.6,455.2 377.3,461.4 378.1,463.8 378.8,470.0 379.6,465.8 380.3,467.0 381.1,466.1 381.8,462.8 382.6,462.9 383.3,458.8 384.1,455.9 384.8,456.3 385.6,459.6 386.3,463.6 387.1,468.8 387.9,472.0 388.6,466.0 389.4,469.8 390.1,468.0 390.9,468.6 391.6,468.4 392.4,462.2 393.1,458.1 393.9,457.6 394.6,462.1 395.4,465.4 396.1,468.7 396.9,470.0 397.6,471.5 398.4,470.4 399.2,470.1 399.9,469.8 400.7,462.6 401.4,464.2 402.2,459.6 402.9,459.5 403.7,467.5 404.4,466.6 405.2,472.3 405.9,472.5 406.7,473.1 407.4,474.5 408.2,470.3 409.0,469.0 409.7,464.6 410.5,462.1 411.2,463.9 412.0,458.9 412.7,462.8 413.5,467.3 414.2,471.3 415.0,474.8 415.7,472.0 416.5,472.8 417.2,465.7 418.0,470.1 418.7,469.1 419.5,464.3 420.3,458.6 421.0,462.8 421.8,469.6 422.5,466.5 423.3,472.1 424.0,474.9 424.8,472.3 425.5,474.5 426.3,474.2 427.0,468.8 427.8,469.0 428.5,463.9 429.3,462.7 430.0,461.6 430.8,466.1 431.6,474.5 432.3,472.6 433.1,476.0 433.8,473.1 434.6,473.7 435.3,470.4 436.1,472.4 436.8,473.3 437.6,466.9 438.3,463.3 439.1,465.3 439.8,468.6 440.6,469.0 441.4,475.3 442.1,474.1 442.9,475.5 443.6,477.8 444.4,476.1 445.1,473.6 445.9,470.1 446.6,469.3 447.4,468.5 448.1,468.1 448.9,470.1 449.6,474.7 450.4,477.2 451.1,473.6 451.9,476.3 452.7,477.8 453.4,475.7 454.2,471.7 454.9,471.5 455.7,470.4 456.4,471.1 457.2,472.4 457.9,472.8 458.7,476.4 459.4,482.4 460.2,483.0 460.9,480.1 461.7,483.6 462.5,481.9 463.2,477.5 464.0,474.2 464.7,471.9 465.5,468.8 466.2,468.0 467.0,472.0 467.7,477.7 468.5,475.9 469.2,477.7 470.0,478.8 470.7,481.4 471.5,478.4 472.2,482.3 473.0,477.1 473.8,478.9 474.5,473.4 475.3,471.2 476.0,475.9 476.8,476.5 477.5,482.3 478.3,483.3 479.0,484.0 479.8,482.4 480.5,483.4 481.3,480.7 482.0,478.6 482.8,479.2 483.5,481.0 484.3,478.8 485.1,480.3 485.4,494.9"/>
<polyline stroke="#0070c0" stroke-width="1.7" points="142.2,397.7 143.0,398.5 143.7,396.8 144.5,396.0 145.2,399.9 146.0,399.4 146.7,402.5 147.5,398.6 148.2,399.6 149.0,399.7 149.7,397.4 150.5,393.7 151.3,392.3 152.0,391.4 152.8,392.7 153.5,390.7 154.3,388.5 155.0,391.6 155.8,391.3 156.5,392.2 157.3,393.3 158.0,391.9 158.8,394.1 159.5,395.8 160.3,397.1 161.1,397.6 161.8,398.1 162.6,401.0 163.3,402.5 164.1,404.4 164.8,402.4 165.6,404.8 166.3,406.5 167.1,405.4 167.8,405.5 168.6,404.7 169.3,404.2 170.1,406.1 170.8,405.9 171.6,405.0 172.4,405.8 173.1,404.0 173.9,403.0 174.6,403.1 175.4,404.8 176.1,403.9 176.9,400.4 177.6,402.7 178.4,399.4 179.1,398.5 179.9,398.7 180.6,398.4 181.4,395.9 182.1,399.2 182.9,400.6 183.7,402.5 184.4,404.1 185.2,403.2 185.9,403.0 186.7,403.8 187.4,402.2 188.2,403.2 188.9,407.4 189.7,408.3 190.4,411.0 191.2,412.4 191.9,415.2 192.7,412.6 193.5,413.7 194.2,414.0 195.0,414.3 195.7,416.2 196.5,414.4 197.2,415.6 198.0,411.6 198.7,414.9 199.5,413.3 200.2,416.0 201.0,414.8 201.7,413.2 202.5,410.8 203.2,410.2 204.0,409.7 204.8,412.3 205.5,408.9 206.3,411.2 207.0,407.8 207.8,407.6 208.5,409.2 209.3,409.7 210.0,413.3 210.8,409.3 211.5,412.9 212.3,411.5 213.0,413.2 213.8,411.3 214.5,411.6 215.3,409.3 216.1,408.0 216.8,407.5 217.6,407.0 218.3,409.3 219.1,410.9 219.8,412.6 220.6,411.4 221.3,415.5 222.1,414.0 222.8,418.0 223.6,416.3 224.3,414.5 225.1,415.0 225.9,411.2 226.6,412.1 227.4,417.9 228.1,418.2 228.9,418.0 229.6,416.6 230.4,418.0 231.1,419.4 231.9,421.7 232.6,420.9 233.4,423.1 234.1,421.7 234.9,419.6 235.6,419.8 236.4,423.3 237.2,422.6 237.9,421.8 238.7,424.6 239.4,425.9 240.2,425.1 240.9,425.3 241.7,425.8 242.4,426.5 243.2,426.4 243.9,425.4 244.7,426.2 245.4,424.2 246.2,425.2 246.9,425.4 247.7,424.5 248.5,425.1 249.2,425.1 250.0,425.9 250.7,425.9 251.5,422.8 252.2,426.7 253.0,427.1 253.7,428.1 254.5,427.8 255.2,428.8 256.0,429.2 256.7,431.7 257.5,433.0 258.3,429.6 259.0,427.7 259.8,427.6 260.5,426.5 261.3,424.5 262.0,422.5 262.8,423.7 263.5,425.7 264.3,425.3 265.0,425.6 265.8,428.2 266.5,425.3 267.3,427.3 268.0,425.4 268.8,425.4 269.6,425.1 270.3,421.8 271.1,423.9 271.8,423.7 272.6,422.5 273.3,421.9 274.1,423.1 274.8,424.4 275.6,422.1 276.3,421.7 277.1,419.1 277.8,421.0 278.6,419.5 279.3,419.7 280.1,420.5 280.9,419.0 281.6,418.7 282.4,421.9 283.1,422.4 283.9,423.7 284.6,421.1 285.4,423.7 286.1,422.1 286.9,423.6 287.6,422.0 288.4,422.6 289.1,424.7 289.9,422.0 290.7,422.0 291.4,425.9 292.2,424.3 292.9,425.2 293.7,426.4 294.4,425.4 295.2,427.3 295.9,424.2 296.7,422.6 297.4,425.3 298.2,423.8 298.9,422.7 299.7,425.3 300.4,427.2 301.2,428.9 302.0,428.6 302.7,429.7 303.5,429.2 304.2,432.1 305.0,428.9 305.7,430.7 306.5,429.6 307.2,431.7 308.0,433.1 308.7,433.2 309.5,434.5 310.2,434.2 311.0,433.2 311.8,432.7 312.5,433.5 313.3,433.8 314.0,433.0 314.8,431.0 315.5,429.7 316.3,431.2 317.0,431.5 317.8,433.1 318.5,433.0 319.3,433.1 320.0,438.8 320.8,435.5 321.5,437.2 322.3,439.8 323.1,436.7 323.8,437.4 324.6,437.2 325.3,440.0 326.1,436.6 326.8,440.3 327.6,442.2 328.3,441.3 329.1,443.6 329.8,444.3 330.6,443.9 331.3,447.6 332.1,442.5 332.8,444.5 333.6,443.3 334.4,442.4 335.1,444.6 335.9,443.8 336.6,443.9 337.4,445.5 338.1,445.4 338.9,448.2 339.6,447.6 340.4,447.3 341.1,444.8 341.9,440.0 342.6,443.8 343.4,444.1 344.2,444.0 344.9,443.1 345.7,443.9 346.4,446.7 347.2,444.4 347.9,445.8 348.7,444.6 349.4,447.6 350.2,446.5 350.9,443.2 351.7,445.6 352.4,442.7 353.2,443.1 353.9,444.1 354.7,444.7 355.5,445.7 356.2,446.3 357.0,447.8 357.7,447.5 358.5,443.8 359.2,445.8 360.0,446.2 360.7,446.3 361.5,447.9 362.2,447.1 363.0,448.5 363.7,447.9 364.5,451.1 365.2,453.7 366.0,451.9 366.8,450.6 367.5,448.3 368.3,449.9 369.0,452.1 369.8,451.1 370.5,452.3 371.3,451.9 372.0,453.6 372.8,455.5 373.5,454.0 374.3,455.1 375.0,456.2 375.8,455.9 376.6,453.9 377.3,456.1 378.1,456.6 378.8,455.0 379.6,458.4 380.3,456.0 381.1,458.7 381.8,459.8 382.6,459.7 383.3,458.6 384.1,462.2 384.8,460.1 385.6,460.5 386.3,462.3 387.1,458.9 387.9,460.7 388.6,461.4 389.4,460.8 390.1,461.2 390.9,460.2 391.6,462.5 392.4,460.3 393.1,462.1 393.9,463.2 394.6,463.1 395.4,461.3 396.1,463.6 396.9,463.5 397.6,461.8 398.4,460.1 399.2,461.2 399.9,462.1 400.7,463.0 401.4,466.0 402.2,464.0 402.9,465.8 403.7,462.3 404.4,462.9 405.2,462.5 405.9,461.5 406.7,461.6 407.4,461.9 408.2,462.3 409.0,464.1 409.7,465.6 410.5,464.0 411.2,462.9 412.0,463.4 412.7,464.6 413.5,463.0 414.2,463.8 415.0,462.4 415.7,463.5 416.5,462.7 417.2,460.9 418.0,463.0 418.7,462.7 419.5,466.1 420.3,466.2 421.0,465.3 421.8,464.2 422.5,464.7 423.3,462.7 424.0,464.3 424.8,461.9 425.5,462.6 426.3,465.7 427.0,464.3 427.8,466.0 428.5,465.0 429.3,467.3 430.0,466.2 430.8,465.6 431.6,469.3 432.3,467.7 433.1,464.9 433.8,465.2 434.6,464.0 435.3,465.5 436.1,468.0 436.8,466.8 437.6,468.7 438.3,468.3 439.1,468.7 439.8,467.3 440.6,469.1 441.4,468.2 442.1,469.3 442.9,463.8 443.6,467.9 444.4,468.3 445.1,469.3 445.9,469.4 446.6,469.7 447.4,468.7 448.1,469.2 448.9,468.8 449.6,469.5 450.4,468.3 451.1,466.4 451.9,467.9 452.7,467.8 453.4,471.4 454.2,469.2 454.9,470.4 455.7,470.0 456.4,475.5 457.2,472.3 457.9,472.4 458.7,471.9 459.4,472.6 460.2,471.3 460.9,470.6 461.7,471.6 462.5,472.5 463.2,473.0 464.0,473.9 464.7,473.9 465.5,475.1 466.2,476.6 467.0,472.1 467.7,475.5 468.5,472.9 469.2,474.1 470.0,472.7 470.7,473.7 471.5,473.1 472.2,474.9 473.0,476.4 473.8,475.2 474.5,474.4 475.3,475.8 476.0,476.0 476.8,477.2 477.5,475.7 478.3,474.9 479.0,476.4 479.8,475.3 480.5,477.6 481.3,478.4 482.0,480.7 482.8,481.9 483.5,481.9 484.3,482.3 485.1,482.7 485.4,483.2"/>
</g>
<rect x="82.3" y="28.8" width="160.2" height="51.2" fill="#fff" stroke="#7a7a7a" stroke-width="1"/>
<line x1="100.5" y1="37.3" x2="119.2" y2="37.3" stroke="#00b050" stroke-width="1.4"/>
<text transform="translate(124.6,41.3) scale(0.940,1)" style="font-size:11.5px">Point Barrow 71 N</text>
<line x1="100.5" y1="53.9" x2="119.2" y2="53.9" stroke="#ff0000" stroke-width="1.4"/>
<text transform="translate(124.6,57.9) scale(0.940,1)" style="font-size:11.5px">Christmas Island 2 N</text>
<line x1="100.5" y1="71.0" x2="119.2" y2="71.0" stroke="#0070c0" stroke-width="1.4"/>
<text transform="translate(124.6,75.0) scale(0.940,1)" style="font-size:11.5px">South Pole 90 S</text>
<rect x="88.2" y="314.8" width="160.2" height="51.6" fill="#fff" stroke="#7a7a7a" stroke-width="1"/>
<line x1="106.1" y1="323.6" x2="125.7" y2="323.6" stroke="#00b050" stroke-width="1.4"/>
<text transform="translate(130.5,327.6) scale(0.940,1)" style="font-size:11.5px">Point Barrow 71 N</text>
<line x1="106.1" y1="340.9" x2="125.7" y2="340.9" stroke="#ff0000" stroke-width="1.4"/>
<text transform="translate(130.5,344.9) scale(0.940,1)" style="font-size:11.5px">Christmas Island 2 N</text>
<line x1="106.1" y1="358.2" x2="125.7" y2="358.2" stroke="#0070c0" stroke-width="1.4"/>
<text transform="translate(130.5,362.2) scale(0.940,1)" style="font-size:11.5px">South Pole 90 S</text>
<text style="font-family:'Liberation Serif',serif;font-weight:bold;font-size:14.2px" transform="translate(16.3,24.6) scale(0.88,1)">a</text>
<text x="12.4" y="303" style="font-weight:bold;font-size:11px">b</text>
<text transform="translate(25.9,204.4) rotate(-90) scale(1,0.97)" style="font-size:11.55px" xml:space="preserve">CO<tspan style="font-size:7.5px" font-weight="bold" dy="2.6">2</tspan><tspan dy="-2.6">  concentration ppm</tspan></text>
<g transform="translate(29.5,534.4) rotate(-90)" style="font-size:10.9px">
<text x="-0.6" y="0" textLength="37.6" lengthAdjust="spacingAndGlyphs">Isotopic</text>
<text x="42.4" y="0" textLength="54.8" lengthAdjust="spacingAndGlyphs">composiion</text>
<text x="103.8" y="0" textLength="15.6" lengthAdjust="spacingAndGlyphs">for</text>
<text x="125.2" y="0" font-weight="bold" textLength="15.2" lengthAdjust="spacingAndGlyphs">CO</text>
<text x="140.9" y="2.2" font-weight="bold" style="font-size:7.4px">2</text>
<text x="148.9" y="0" textLength="6.9" lengthAdjust="spacingAndGlyphs">δ</text>
<text x="155.9" y="-4.0" style="font-size:7.4px">13</text>
<text x="164.0" y="0" textLength="7.8" lengthAdjust="spacingAndGlyphs">C</text>
<g fill="#8a8a8a" stroke="#8a8a8a" stroke-width="0.12"><text x="175.3" y="-4.0" style="font-size:7.4px">0</text><text x="179.8" y="0">/</text><text x="183.2" y="2.2" style="font-size:7.4px">00</text></g>
</g>
</svg></body></html>
